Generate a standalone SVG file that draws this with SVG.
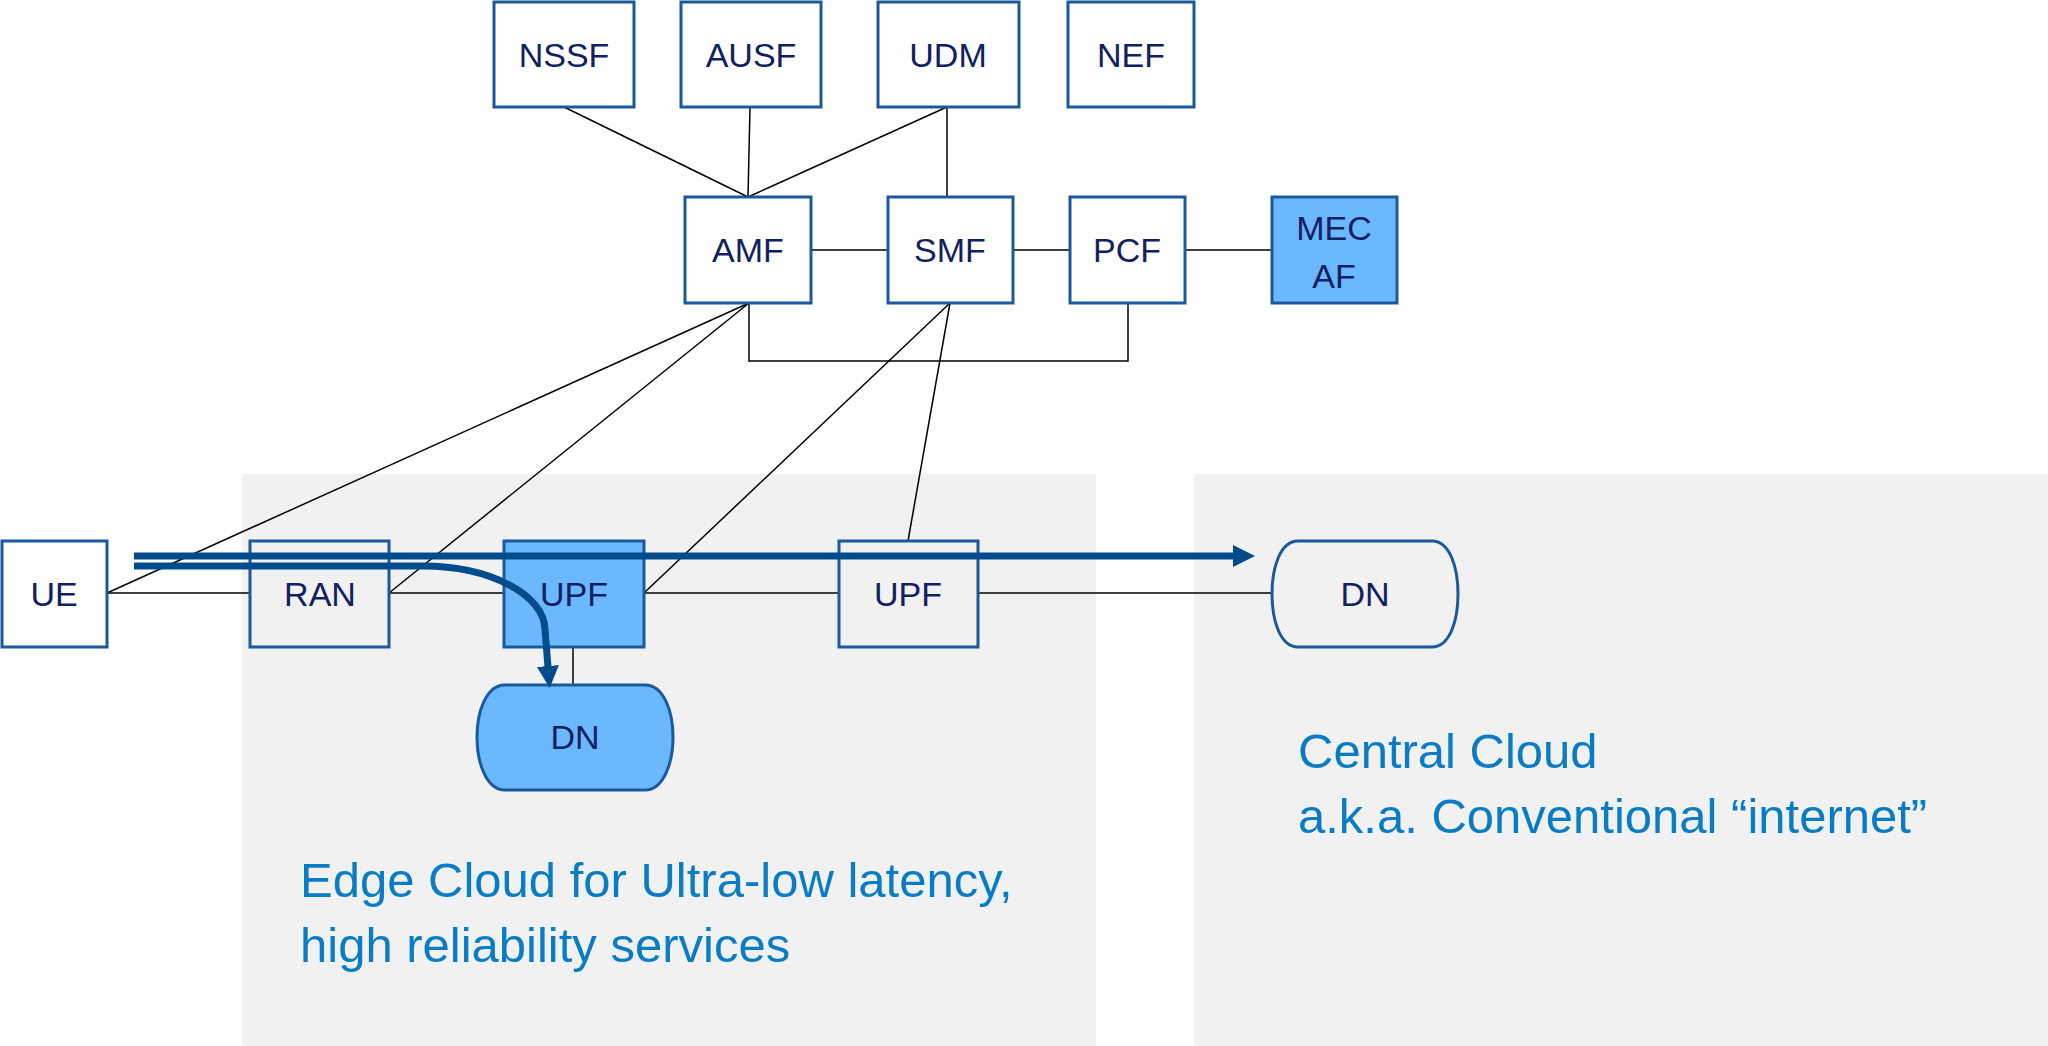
<svg xmlns="http://www.w3.org/2000/svg" width="2048" height="1046" viewBox="0 0 2048 1046">
<defs>
<style>
.box{fill:#ffffff;stroke:#1A5A9C;stroke-width:3}
.clear{fill:none;stroke:#1A5A9C;stroke-width:3}
.hl{fill:#6CB8FE;stroke:#1A5A9C;stroke-width:3}
.lbl{font-family:"Liberation Sans",Arial,sans-serif;font-size:34px;fill:#102060;text-anchor:middle}
.zone{font-family:"Liberation Sans",Arial,sans-serif;font-size:49px;fill:#0A7CC4}
.ln{stroke:#000000;stroke-width:1.5;fill:none}
.flow{stroke:#034C8C;stroke-width:7;fill:none}
</style>
<marker id="ah" markerUnits="userSpaceOnUse" markerWidth="24" markerHeight="24" refX="1" refY="11" orient="auto">
<path d="M0,0 L22,11 L0,22 Z" fill="#034C8C"/>
</marker>
</defs>
<rect width="2048" height="1046" fill="#ffffff"/>
<g id="zones">
<rect id="edge-cloud" x="242" y="474" width="854" height="572" fill="#F1F1F1"/>
<rect id="central-cloud" x="1194" y="474" width="854" height="572" fill="#F1F1F1"/>
<text class="zone" x="300" y="897">Edge Cloud for Ultra-low latency,</text>
<text class="zone" x="300" y="962">high reliability services</text>
<text class="zone" x="1298" y="768">Central Cloud</text>
<text class="zone" x="1298" y="833">a.k.a. Conventional “internet”</text>
</g>
<g id="connectors">
<line class="ln" x1="564" y1="107" x2="748" y2="197"/>
<line class="ln" x1="750" y1="107" x2="748" y2="197"/>
<line class="ln" x1="947" y1="107" x2="748" y2="197"/>
<line class="ln" x1="947" y1="107" x2="947" y2="197"/>
<line class="ln" x1="811" y1="250" x2="888" y2="250"/>
<line class="ln" x1="1013" y1="250" x2="1070" y2="250"/>
<line class="ln" x1="1185" y1="250" x2="1272" y2="250"/>
<polyline class="ln" points="749,303 749,361 1128,361 1128,303"/>
<line class="ln" x1="749" y1="303" x2="107" y2="593"/>
<line class="ln" x1="749" y1="303" x2="389" y2="593"/>
<line class="ln" x1="950" y1="303" x2="644" y2="593"/>
<line class="ln" x1="950" y1="303" x2="908" y2="541"/>
<line class="ln" x1="107" y1="593" x2="250" y2="593"/>
<line class="ln" x1="389" y1="593" x2="504" y2="593"/>
<line class="ln" x1="644" y1="593" x2="839" y2="593"/>
<line class="ln" x1="978" y1="593" x2="1272" y2="593"/>
<line class="ln" x1="573" y1="647" x2="573" y2="685"/>
</g>
<g id="UE"><rect class="box" x="2" y="541" width="105" height="106"/><text class="lbl" x="54" y="606">UE</text></g>
<g id="RAN"><rect class="clear" x="250" y="541" width="139" height="106"/><text class="lbl" x="320" y="606">RAN</text></g>
<g id="UPF-edge"><rect class="hl" x="504" y="541" width="140" height="106"/><text class="lbl" x="574" y="606">UPF</text></g>
<g id="UPF-central"><rect class="clear" x="839" y="541" width="139" height="106"/><text class="lbl" x="908" y="606">UPF</text></g>
<g id="DN-edge"><path class="hl" d="M505,685 H645 C664,685 673,712 673,737 C673,762 664,790 645,790 H505 C486,790 477,762 477,737 C477,712 486,685 505,685 Z"/><text class="lbl" x="575" y="749">DN</text></g>
<g id="DN-central"><path class="clear" d="M1298,541 H1432 C1450,541 1458,568 1458,594 C1458,620 1450,647 1432,647 H1298 C1280,647 1272,620 1272,594 C1272,568 1280,541 1298,541 Z"/><text class="lbl" x="1365" y="606">DN</text></g>
<g id="NSSF"><rect class="box" x="494" y="2" width="140" height="105"/><text class="lbl" x="564" y="67">NSSF</text></g>
<g id="AUSF"><rect class="box" x="681" y="2" width="140" height="105"/><text class="lbl" x="751" y="67">AUSF</text></g>
<g id="UDM"><rect class="box" x="878" y="2" width="141" height="105"/><text class="lbl" x="948" y="67">UDM</text></g>
<g id="NEF"><rect class="box" x="1068" y="2" width="126" height="105"/><text class="lbl" x="1131" y="67">NEF</text></g>
<g id="AMF"><rect class="box" x="685" y="197" width="126" height="106"/><text class="lbl" x="748" y="262">AMF</text></g>
<g id="SMF"><rect class="box" x="888" y="197" width="125" height="106"/><text class="lbl" x="950" y="262">SMF</text></g>
<g id="PCF"><rect class="box" x="1070" y="197" width="115" height="106"/><text class="lbl" x="1127" y="262">PCF</text></g>
<g id="MEC-AF"><rect class="hl" x="1272" y="197" width="125" height="106"/><text class="lbl" x="1334" y="240">MEC</text><text class="lbl" x="1334" y="288">AF</text></g>
<g id="flows">
<line class="flow" x1="134" y1="556" x2="1234" y2="556" marker-end="url(#ah)"/>
<path class="flow" d="M134,566 H423 C490,566 545,595 545,630 L548,667" marker-end="url(#ah)"/>
</g>
</svg>
